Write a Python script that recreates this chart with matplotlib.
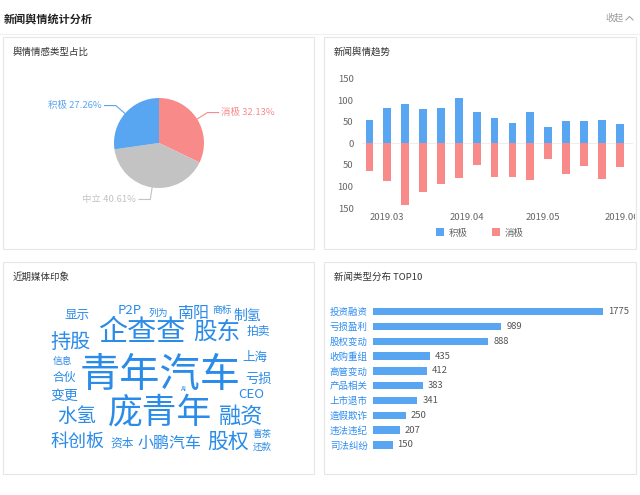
import datetime as dt
import matplotlib
matplotlib.use('Agg')
import matplotlib.pyplot as plt
import matplotlib.dates as mdates
from matplotlib.patches import Rectangle
from matplotlib.transforms import Bbox, TransformedBbox
import numpy as np

plt.rcParams['font.family'] = ['Noto Sans CJK SC', 'DejaVu Sans']

W, H = 640, 495

# ---- data ----
PIE_LABELS = ['消极', '中立', '积极']
PIE_VALUES = [32.13, 40.61, 27.26]

TREND_START = dt.date(2019, 2, 22)   # weekly bars
POSITIVE = [54, 81, 91, 80, 81, 106, 73, 59, 47, 72, 38, 52, 53, 55, 46]
NEGATIVE = [63, 87, 143, 113, 94, 80, 51, 78, 78, 84, 36, 70, 52, 82, 56]

TOP10_LABELS = ['投资融资', '亏损盈利', '股权变动', '收购重组', '高管变动',
                '产品相关', '上市退市', '造假欺诈', '违法违纪', '司法纠纷']
TOP10_VALUES = [1775, 989, 888, 435, 412, 383, 341, 250, 207, 150]

WORDS = ['青年汽车', '庞青年', '企查查', '股东', '融资', '股权', '持股', '水氢',
         '科创板', '南阳', '小鹏汽车', '制氢', '变更', '亏损', 'P2P', 'CEO',
         '显示', '上海', '资本', '拍卖', '合伙', '列为', '商标', '信息',
         '喜茶', '还款', 'AI']
WORD_SIZES = [29, 25, 21, 17, 16, 15, 14.5, 14, 13, 11.5, 11.5, 10, 10, 9.5,
              9.5, 9.5, 9, 9, 8.5, 8.5, 8.5, 7, 7, 7, 6.8, 6.8, 4.8]
WORD_X = [160, 160, 142, 217, 241, 228, 71, 77, 78, 193, 170, 247, 64, 258,
          130, 251, 77, 255, 122, 258, 64, 158, 222, 62, 262, 262, 184]
WORD_Y = [375, 413, 333, 332, 416, 442, 342, 416, 442, 313, 443, 316, 396, 379,
          310, 395, 315, 357, 443, 331, 377, 313, 310, 361, 435, 447, 389]

# ---- style ----
BLUE = '#58a5f2'
PINK = '#f98a8a'
GREY = '#c3c3c3'
PIE_COLORS = [PINK, GREY, BLUE]
WORD_COLOR = '#2a8be8'
LABEL_BLUE = '#2d8cf0'
TEXT = '#333333'
TICK = '#666666'
BORDER = '#e6e6e6'


def px_axes(fig, left, top, width, height):
    return fig.add_axes([left / W, 1 - (top + height) / H, width / W, height / H])


fig = plt.figure(figsize=(W / 100, H / 100), dpi=100)
fig.patch.set_facecolor('white')

# background layer in pixel coordinates
bg = fig.add_axes([0, 0, 1, 1])
bg.set_xlim(0, W)
bg.set_ylim(H, 0)
bg.axis('off')

# header
bg.text(4, 19, '新闻舆情统计分析', fontsize=8, fontweight='bold', color='#222222',
        ha='left', va='center')
bg.text(623, 18, '收起', fontsize=6.5, color='#999999', ha='right', va='center')
bg.plot([626, 629.5, 633], [20, 16.5, 20], color='#999999', lw=0.7)
bg.plot([0, W], [33.5, 33.5], color='#f0f0f0', lw=0.8)

# panels
panels = [(3, 37, 311, 212), (324, 37, 312, 212), (3, 262, 311, 212), (324, 262, 312, 212)]
for x0, y0, pw, ph in panels:
    bg.add_patch(Rectangle((x0, y0), pw, ph, facecolor='white', edgecolor=BORDER, lw=0.8))

titles = [(13, 52, '舆情情感类型占比'), (334, 52, '新闻舆情趋势'),
          (13, 277, '近期媒体印象'), (334, 277, '新闻类型分布 TOP10')]
for tx, ty, t in titles:
    bg.text(tx, ty, t, fontsize=6.8, color=TEXT, ha='left', va='center')

# ---- word cloud ----
for word, size, wx, wy in zip(WORDS, WORD_SIZES, WORD_X, WORD_Y):
    bg.text(wx, wy, word, fontsize=size, color=WORD_COLOR, ha='center', va='center')

# ---- pie ----
R = 45
ax_pie = px_axes(fig, 159 - 60, 143 - 60, 120, 120)
wedges, _ = ax_pie.pie(PIE_VALUES, colors=PIE_COLORS, startangle=90,
                       counterclock=False, radius=1)
ax_pie.set_xlim(-60 / R, 60 / R)
ax_pie.set_ylim(-60 / R, 60 / R)
ax_pie.set_aspect('equal')
ax_pie.axis('off')
for w, lab, val, col in zip(wedges, PIE_LABELS, PIE_VALUES, PIE_COLORS):
    ang = np.deg2rad((w.theta1 + w.theta2) / 2)
    c, s = np.cos(ang), np.sin(ang)
    sign = 1 if c >= 0 else -1
    x1, y1 = 1.0 * c, 1.0 * s
    x2, y2 = 1.27 * c, 1.27 * s
    x3 = x2 + sign * 0.25
    ax_pie.plot([x1, x2, x3], [y1, y2, y2], color=col, lw=0.8, clip_on=False)
    ax_pie.text(x3 + sign * 0.06, y2, f'{lab} {val:.2f}%', color=col, fontsize=6.8,
                ha='left' if sign > 0 else 'right', va='center', clip_on=False)

# ---- trend bars ----
dates = [TREND_START + dt.timedelta(days=7 * i) for i in range(len(POSITIVE))]
xd = mdates.date2num(dates)
m1 = mdates.date2num(dt.date(2019, 3, 1))
ax_tr = px_axes(fig, 362, 78.7, 271, 129.3)
b_pos = ax_tr.bar(xd, POSITIVE, width=3, color=BLUE, zorder=2)
b_neg = ax_tr.bar(xd, [-v for v in NEGATIVE], width=3, color=PINK, zorder=2)
ax_tr.axhline(0, color='#eeeeee', lw=0.8, zorder=1)
ax_tr.set_xlim(m1 - 9.9, m1 + 96.2)
ax_tr.set_ylim(-150, 150)
yt = [-150, -100, -50, 0, 50, 100, 150]
ax_tr.set_yticks(yt)
ax_tr.set_yticklabels([str(abs(v)) for v in yt])
ax_tr.xaxis.set_major_locator(mdates.MonthLocator())
ax_tr.xaxis.set_major_formatter(mdates.DateFormatter('%Y.%m'))
ax_tr.tick_params(length=0, labelsize=6.8, labelcolor=TICK)
ax_tr.tick_params(axis='y', pad=6)
ax_tr.tick_params(axis='x', pad=3.5)
for sp in ax_tr.spines.values():
    sp.set_visible(False)
ax_tr.set_facecolor('none')

fig.legend(handles=[b_pos, b_neg], labels=['积极', '消极'], loc='center',
           bbox_to_anchor=(480 / W, 1 - 233 / H), ncol=2, frameon=False,
           fontsize=6.8, handlelength=0.9, handleheight=0.9, handletextpad=0.5,
           columnspacing=2.5, labelcolor=TICK)

# ---- top10 horizontal bars ----
ax_top = px_axes(fig, 373.3, 304.3, 230, 148)
yy = np.arange(len(TOP10_VALUES))
hb = ax_top.barh(yy, TOP10_VALUES, height=0.5, color=BLUE)
ax_top.set_ylim(len(TOP10_VALUES) - 0.5, -0.5)
ax_top.set_xlim(0, max(TOP10_VALUES))
ax_top.set_yticks(yy)
ax_top.set_yticklabels(TOP10_LABELS)
ax_top.set_xticks([])
ax_top.tick_params(axis='y', length=0, labelsize=6.8, labelcolor=LABEL_BLUE, pad=4)
ax_top.bar_label(hb, padding=3.5, fontsize=6.8, color='#555555')
for sp in ax_top.spines.values():
    sp.set_visible(False)
ax_top.set_facecolor('none')

# clip month labels at the panel edge
fig.canvas.draw()
clip = TransformedBbox(Bbox([[324 / W, 0], [635 / W, 1]]), fig.transFigure)
for t in ax_tr.xaxis.get_major_ticks():
    t.label1.set_clip_on(True)
    t.label1.set_clip_box(clip)

fig.savefig('out.png', dpi=100)
